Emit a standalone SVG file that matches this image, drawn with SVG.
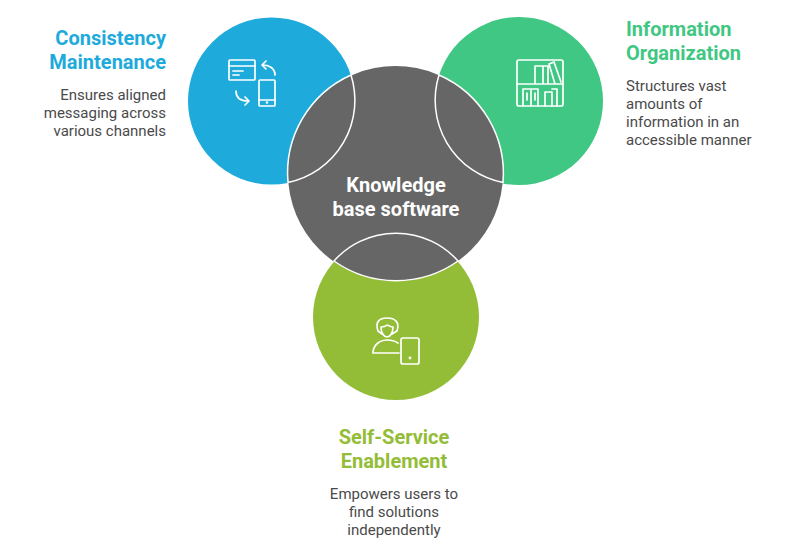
<svg xmlns="http://www.w3.org/2000/svg" width="792" height="546" viewBox="0 0 792 546">
<style>
text{font-family:Roboto,"Liberation Sans",sans-serif}
.h{font-size:20px;font-weight:700}
.b{font-size:15px;fill:#4a4a4a}
.c{font-size:20px;font-weight:700;fill:#fff}
.i{fill:none;stroke:#fff;stroke-width:1.7;stroke-linecap:round;stroke-linejoin:round}
.o{fill:none;stroke:#fff;stroke-width:1.5}
</style>
<rect width="792" height="546" fill="#fff"/>
<g id="node-consistency"><circle cx="271.500" cy="101" r="83.500" fill="#1eaadb"/>
<g class="i"><rect x="229" y="60" width="26" height="20" rx="1"/><path d="M229 66H255M233 71H243M233 75H239"/><rect x="259" y="80" width="16" height="26" rx="1"/><path d="M259 100H275"/><circle cx="267" cy="102.500" r=".5"/><path d="M275 75C275 69 270 65 263 65M266 61L262 65L266 69"/><path d="M236 91C236 97 240 101 248 101M245 97L249 101L245 105"/></g></g>
<g id="node-information"><circle cx="519" cy="101" r="84" fill="#3fc783"/>
<g class="i"><rect x="517" y="60" width="46" height="46" rx="2"/><path d="M517 84H563M535 84V66H543V84M543 66H548V84M549 64L554 62L561 82M549 64L555 84"/><path d="M523 106V89H531V106M531 89H538V106M545 106V92H552V106M552 89H557V106M527 93V100M535 93V100"/></g></g>
<g id="node-self-service"><circle cx="396" cy="317" r="83" fill="#94bd37"/>
<g class="i"><path d="M373 353C373 345 380 340 387 340C391 340 395 341 398 343M373 353H399"/><path d="M378 331C375 322 379 318 387 318C395 318 400 322 397 331M381 327C384 327 386 326 387 325C389 326 391 327 393 327M381 327C381 333 384 337 387 337C390 337 393 333 393 327M378 331L382 334M397 331L392 334"/><rect x="401" y="338" width="18" height="26" rx="2"/><circle cx="410" cy="358" r=".6"/></g></g>
<g id="node-center"><circle cx="395.500" cy="173.500" r="107.500" fill="#666"/>
<text x="396" y="192" text-anchor="middle" class="c">Knowledge</text>
<text x="396" y="216" text-anchor="middle" class="c">base software</text></g>
<g id="connectors">
<path class="o" d="M351 75A84 84 0 0 1 288 182.500A107.500 107.500 0 0 1 351 75Z"/>
<path class="o" d="M439 75A84 84 0 0 0 503 182.500A107.500 107.500 0 0 0 439 75Z"/>
<path class="o" d="M334 261A83 83 0 0 1 458 261A107.500 107.500 0 0 1 334 261Z"/>
</g>
<g id="label-consistency" text-anchor="end"><text class="h" x="166" y="45" fill="#1eaadb">Consistency</text><text class="h" x="166" y="69" fill="#1eaadb">Maintenance</text>
<text class="b" x="166" y="100">Ensures aligned</text><text class="b" x="166" y="118">messaging across</text><text class="b" x="166" y="136">various channels</text></g>
<g id="label-information"><text class="h" x="626" y="36" fill="#3fc783">Information</text><text class="h" x="626" y="60" fill="#3fc783">Organization</text>
<text class="b" x="626" y="91">Structures vast</text><text class="b" x="626" y="109">amounts of</text><text class="b" x="626" y="127">information in an</text><text class="b" x="626" y="145">accessible manner</text></g>
<g id="label-self-service" text-anchor="middle"><text class="h" x="394" y="444" fill="#94bd37">Self-Service</text><text class="h" x="394" y="468" fill="#94bd37">Enablement</text>
<text class="b" x="394" y="499">Empowers users to</text><text class="b" x="394" y="517">find solutions</text><text class="b" x="394" y="535">independently</text></g>
</svg>
